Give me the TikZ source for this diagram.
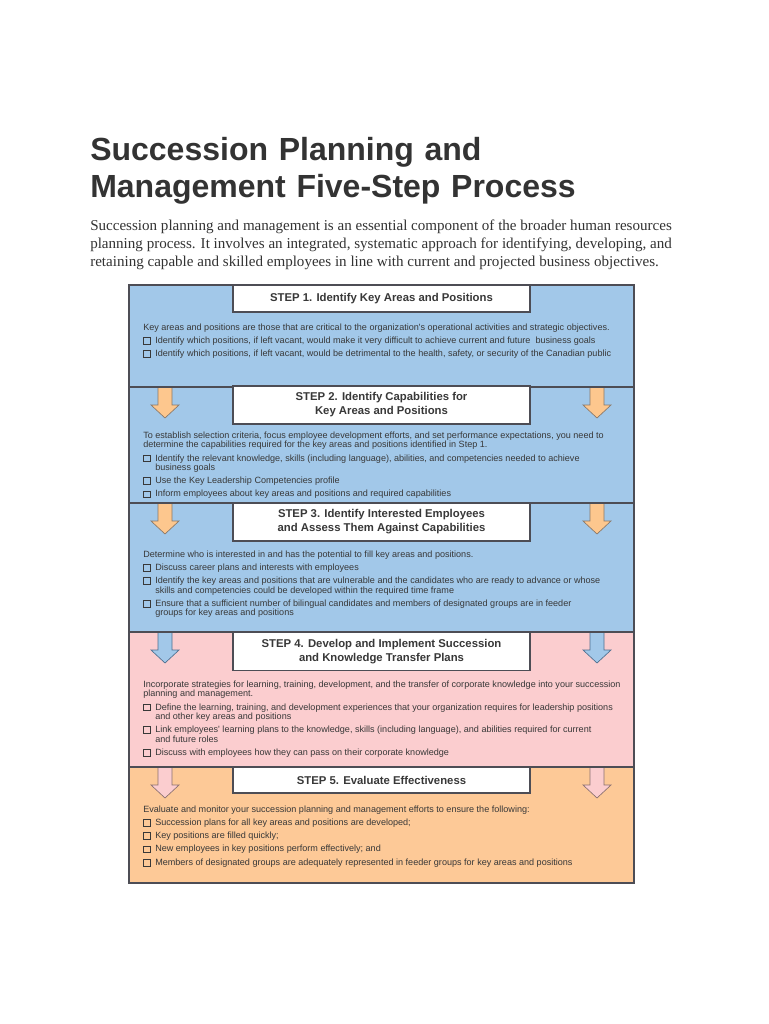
\documentclass[tikz,border=0pt]{standalone}
\usepackage{fontspec}
\setmainfont{Liberation Serif}
\newfontfamily\sansfont{Liberation Sans}
\usepackage{xcolor}
\usepackage{tikz}
\usetikzlibrary{positioning}
\definecolor{inktext}{HTML}{333333}
\definecolor{boxtext}{HTML}{383838}
\definecolor{paneblue}{HTML}{A2C8E9}
\definecolor{panepink}{HTML}{FBCDCF}
\definecolor{paneorange}{HTML}{FDC997}
\definecolor{arroworange}{HTML}{FDC78E}
\definecolor{arrowedge}{HTML}{8A7868}
\definecolor{blueedge}{HTML}{4F6F8F}
\definecolor{pinkedge}{HTML}{8A7070}
\definecolor{framegray}{HTML}{4D4D55}
\newcommand{\ckbox}{\makebox[9pt][l]{\raisebox{-0.3pt}{\fboxsep=0pt\fboxrule=0.45pt\fbox{\rule{0pt}{4.6pt}\rule{4.6pt}{0pt}}}}}
\newcommand{\ckitem}{\par\hangindent=9pt\hangafter=1\noindent\ckbox}
\newcommand{\bodyset}{\sansfont\fontsize{6.8pt}{7.1pt}\selectfont\raggedright
  \spaceskip=0pt\xspaceskip=0pt\parskip=2.8pt\relax}
\newcommand{\blockarrow}[4]{%
  \filldraw[fill=#3,draw=#4,line width=0.5pt]
    (#1-7,#2) -- (#1+7,#2) -- (#1+7,#2+18) -- (#1+14,#2+18)
    -- (#1,#2+31) -- (#1-14,#2+18) -- (#1-7,#2+18) -- cycle;}

\begin{document}
\begin{tikzpicture}[x=0.75pt,y=-0.75pt,
  stepbox/.style={draw=framegray,line width=0.8pt,fill=white,
    minimum width=222.75pt,align=center,inner sep=0pt,text=boxtext,
    font=\sansfont\bfseries\fontsize{8.5pt}{10.5pt}\selectfont},
  stepbody/.style={anchor=north west,text width=380pt,
    inner sep=0pt,text=boxtext}]
\useasboundingbox[fill=white] (0,0) rectangle (768,1024);

\node[anchor=north west,inner sep=0pt,text width=450pt,text=inktext,
  font=\sansfont\bfseries\fontsize{24pt}{27.75pt}\selectfont] (title) at (90,137)
  {\raggedright Succession Planning and\\Management Five-Step Process};
\node[anchor=north west,inner sep=0pt,text width=560pt,text=inktext,
  font=\fontsize{11.3pt}{13.5pt}\selectfont] (intro) at (90,220)
  {\raggedright\spaceskip=0pt\xspaceskip=0pt
   Succession planning and management is an essential component of the broader human resources\\
   planning process. It involves an integrated, systematic approach for identifying, developing, and\\
   retaining capable and skilled employees in line with current and projected business objectives.};

% panels
\fill[paneblue] (129,285) rectangle (634,632);
\fill[panepink] (129,632) rectangle (634,767);
\fill[paneorange] (129,767) rectangle (634,883);
\foreach \y/\c/\d in {387/arroworange/arrowedge,503/arroworange/arrowedge,
    632/paneblue/blueedge,767/panepink/pinkedge}{
  \blockarrow{165}{\y}{\c}{\d}
  \blockarrow{597}{\y}{\c}{\d}
}
\foreach \y in {387,503,632,767}
  \draw[framegray,line width=0.8pt] (129,\y) -- (634,\y);
\draw[framegray,line width=0.9pt] (129,285) rectangle (634,883);

% step headings
\node[stepbox,minimum height=20.25pt] (s1) at (381.5,298.5)
  {STEP 1. Identify Key Areas and Positions};
\node[stepbox,minimum height=28.5pt] (s2) at (381.5,405)
  {STEP 2. Identify Capabilities for\\Key Areas and Positions};
\node[stepbox,minimum height=28.5pt] (s3) at (381.5,522)
  {STEP 3. Identify Interested Employees\\and Assess Them Against Capabilities};
\node[stepbox,minimum height=29pt] (s4) at (381.5,651.5)
  {STEP 4. Develop and Implement Succession\\and Knowledge Transfer Plans};
\node[stepbox,minimum height=19.5pt] (s5) at (381.5,780)
  {STEP 5. Evaluate Effectiveness};

% step texts
\node[stepbody] (b1) at (143,323.5) {\bodyset
  Key areas and positions are those that are critical to the organization's operational activities and strategic objectives.
  \ckitem Identify which positions, if left vacant, would make it very difficult to achieve current and future\ \ business goals
  \ckitem Identify which positions, if left vacant, would be detrimental to the health, safety, or security of the Canadian public\par};
\node[stepbody] (b2) at (143,431.5) {\bodyset
  To establish selection criteria, focus employee development efforts, and set performance expectations, you need to\newline
  determine the capabilities required for the key areas and positions identified in Step 1.
  \ckitem Identify the relevant knowledge, skills (including language), abilities, and competencies needed to achieve\newline business goals
  \ckitem Use the Key Leadership Competencies profile
  \ckitem Inform employees about key areas and positions and required capabilities\par};
\node[stepbody] (b3) at (143,550.5) {\bodyset
  Determine who is interested in and has the potential to fill key areas and positions.
  \ckitem Discuss career plans and interests with employees
  \ckitem Identify the key areas and positions that are vulnerable and the candidates who are ready to advance or whose\newline
  skills and competencies could be developed within the required time frame
  \ckitem Ensure that a sufficient number of bilingual candidates and members of designated groups are in feeder\newline
  groups for key areas and positions\par};
\node[stepbody] (b4) at (143,680.5) {\bodyset
  Incorporate strategies for learning, training, development, and the transfer of corporate knowledge into your succession\newline
  planning and management.
  \ckitem Define the learning, training, and development experiences that your organization requires for leadership positions\newline
  and other key areas and positions
  \ckitem Link employees' learning plans to the knowledge, skills (including language), and abilities required for current\newline
  and future roles
  \ckitem Discuss with employees how they can pass on their corporate knowledge\par};
\node[stepbody] (b5) at (143,805.5) {\bodyset
  Evaluate and monitor your succession planning and management efforts to ensure the following:
  \ckitem Succession plans for all key areas and positions are developed;
  \ckitem Key positions are filled quickly;
  \ckitem New employees in key positions perform effectively; and
  \ckitem Members of designated groups are adequately represented in feeder groups for key areas and positions\par};
\end{tikzpicture}
\end{document}
